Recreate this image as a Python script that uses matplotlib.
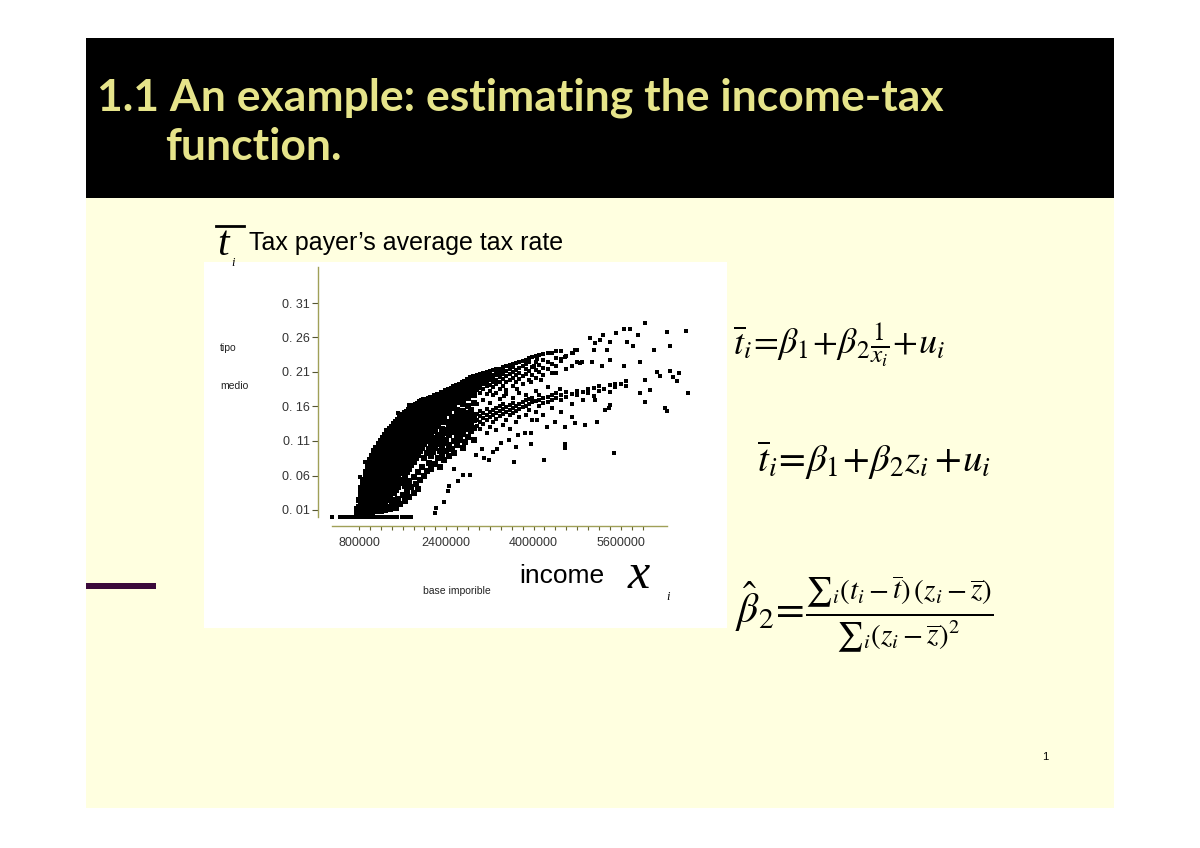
import matplotlib
matplotlib.use("Agg")
import matplotlib.pyplot as plt
from matplotlib.patches import Rectangle
from matplotlib.lines import Line2D
import numpy as np

plt.rcParams['mathtext.fontset'] = 'stix'

W, H = 1200, 848

# --- data (income in millions of pesetas, average tax rate) ---
# filers with zero tax, all on the bottom row
zero_income = [0.31, 0.45, 0.48, 0.51, 0.54, 0.57, 0.60, 0.63, 0.66, 0.69, 0.72, 0.75,
               0.78, 0.81, 0.84, 0.87, 0.90, 0.93, 0.96, 0.99, 1.02, 1.05, 1.08, 1.11,
               1.14, 1.17, 1.20, 1.23, 1.26, 1.29, 1.32, 1.35, 1.38, 1.41, 1.44, 1.47,
               1.50, 1.58, 1.63, 1.70, 1.75]

# dense arc below 2.0M: (income column, rates seen in that column)
arc_cols = [
    (0.77, [0.004, 0.012]),
    (0.80, [0.006, 0.015, 0.024]),
    (0.84, [0.009, 0.018, 0.027, 0.035, 0.042]),
    (0.88, [0.005, 0.014, 0.023, 0.031, 0.040, 0.048, 0.054]),
    (0.92, [0.010, 0.019, 0.028, 0.036, 0.045, 0.052, 0.059, 0.065]),
    (0.96, [0.006, 0.015, 0.024, 0.033, 0.041, 0.049, 0.056, 0.063, 0.069, 0.073]),
    (1.00, [0.011, 0.020, 0.029, 0.037, 0.046, 0.053, 0.060, 0.067, 0.073, 0.078, 0.082]),
    (1.04, [0.007, 0.016, 0.025, 0.034, 0.042, 0.050, 0.058, 0.065, 0.071, 0.077, 0.083, 0.088]),
    (1.08, [0.012, 0.021, 0.030, 0.039, 0.047, 0.055, 0.063, 0.070, 0.077, 0.083, 0.089, 0.095]),
    (1.12, [0.008, 0.017, 0.026, 0.035, 0.044, 0.052, 0.060, 0.068, 0.075, 0.082, 0.088, 0.094, 0.100]),
    (1.16, [0.013, 0.022, 0.031, 0.040, 0.049, 0.057, 0.065, 0.073, 0.080, 0.087, 0.093, 0.099, 0.105]),
    (1.20, [0.009, 0.018, 0.027, 0.036, 0.045, 0.054, 0.062, 0.070, 0.078, 0.085, 0.092, 0.098, 0.104, 0.110]),
    (1.24, [0.014, 0.023, 0.032, 0.041, 0.050, 0.059, 0.067, 0.075, 0.083, 0.090, 0.097, 0.103, 0.109, 0.115]),
    (1.28, [0.010, 0.019, 0.028, 0.046, 0.055, 0.064, 0.072, 0.080, 0.088, 0.095, 0.102, 0.108, 0.114, 0.119]),
    (1.32, [0.015, 0.024, 0.033, 0.042, 0.051, 0.060, 0.069, 0.077, 0.085, 0.093, 0.100, 0.107, 0.113, 0.119, 0.124]),
    (1.36, [0.011, 0.029, 0.038, 0.047, 0.056, 0.065, 0.074, 0.082, 0.090, 0.098, 0.105, 0.112, 0.118, 0.123, 0.128]),
    (1.40, [0.016, 0.025, 0.043, 0.052, 0.061, 0.070, 0.079, 0.087, 0.095, 0.103, 0.110, 0.116, 0.122, 0.127, 0.131]),
    (1.44, [0.021, 0.034, 0.048, 0.057, 0.066, 0.075, 0.084, 0.092, 0.100, 0.107, 0.114, 0.120, 0.125, 0.130, 0.134]),
    (1.48, [0.013, 0.039, 0.053, 0.062, 0.071, 0.080, 0.089, 0.097, 0.105, 0.112, 0.118, 0.124, 0.129, 0.133, 0.137]),
    (1.52, [0.026, 0.044, 0.058, 0.067, 0.076, 0.085, 0.094, 0.102, 0.110, 0.117, 0.123, 0.128, 0.133, 0.137, 0.141]),
    (1.56, [0.018, 0.049, 0.063, 0.072, 0.081, 0.090, 0.099, 0.107, 0.115, 0.121, 0.127, 0.132, 0.136, 0.140, 0.144]),
    (1.60, [0.032, 0.054, 0.068, 0.077, 0.086, 0.095, 0.104, 0.112, 0.119, 0.125, 0.131, 0.136, 0.140, 0.144, 0.147]),
    (1.64, [0.023, 0.045, 0.060, 0.073, 0.082, 0.091, 0.100, 0.109, 0.117, 0.124, 0.130, 0.135, 0.140, 0.144, 0.147, 0.150]),
    (1.68, [0.038, 0.065, 0.078, 0.087, 0.096, 0.105, 0.114, 0.121, 0.128, 0.134, 0.139, 0.143, 0.147, 0.150, 0.152]),
    (1.72, [0.029, 0.052, 0.070, 0.083, 0.092, 0.101, 0.110, 0.118, 0.125, 0.131, 0.137, 0.142, 0.146, 0.150, 0.153, 0.155]),
    (1.76, [0.043, 0.075, 0.088, 0.097, 0.106, 0.115, 0.122, 0.129, 0.135, 0.140, 0.145, 0.149, 0.152, 0.155, 0.157]),
    (1.80, [0.035, 0.058, 0.080, 0.093, 0.102, 0.111, 0.119, 0.126, 0.133, 0.139, 0.144, 0.148, 0.152, 0.155, 0.158, 0.160]),
    (1.84, [0.048, 0.085, 0.098, 0.107, 0.116, 0.123, 0.130, 0.136, 0.142, 0.147, 0.151, 0.155, 0.158, 0.160, 0.162]),
    (1.88, [0.041, 0.065, 0.090, 0.103, 0.112, 0.120, 0.127, 0.134, 0.140, 0.145, 0.150, 0.154, 0.157, 0.160, 0.162, 0.164]),
    (1.92, [0.054, 0.095, 0.108, 0.117, 0.125, 0.132, 0.138, 0.143, 0.148, 0.153, 0.157, 0.160, 0.163, 0.166]),
    (1.96, [0.072, 0.100, 0.113, 0.122, 0.129, 0.136, 0.142, 0.147, 0.152, 0.156, 0.160, 0.163, 0.166, 0.168]),
    (2.00, [0.060, 0.086, 0.105, 0.118, 0.126, 0.133, 0.139, 0.145, 0.150, 0.155, 0.159, 0.163, 0.166, 0.169]),
]

# 2.0M - 2.9M, where the two branches start to split
mid_cols = [
    (2.04, [0.066, 0.092, 0.110, 0.123, 0.131, 0.138, 0.144, 0.150, 0.155, 0.160, 0.164, 0.167, 0.170]),
    (2.08, [0.078, 0.098, 0.115, 0.127, 0.136, 0.143, 0.149, 0.154, 0.159, 0.163, 0.167, 0.171]),
    (2.12, [0.070, 0.088, 0.104, 0.120, 0.131, 0.140, 0.147, 0.153, 0.158, 0.162, 0.166, 0.169, 0.172]),
    (2.16, [0.094, 0.109, 0.124, 0.135, 0.144, 0.151, 0.157, 0.161, 0.165, 0.169, 0.173]),
    (2.20, [0.076, 0.100, 0.114, 0.128, 0.139, 0.148, 0.155, 0.160, 0.164, 0.168, 0.171, 0.175]),
    (2.24, [0.085, 0.105, 0.119, 0.132, 0.143, 0.152, 0.158, 0.163, 0.167, 0.171, 0.174, 0.176]),
    (2.28, [0.072, 0.096, 0.110, 0.137, 0.147, 0.155, 0.161, 0.166, 0.170, 0.174, 0.177]),
    (2.32, [0.090, 0.101, 0.115, 0.128, 0.141, 0.151, 0.159, 0.164, 0.169, 0.173, 0.176, 0.179]),
    (2.36, [0.082, 0.107, 0.121, 0.145, 0.155, 0.162, 0.167, 0.172, 0.176, 0.180]),
    (2.40, [0.095, 0.112, 0.126, 0.138, 0.150, 0.158, 0.165, 0.170, 0.175, 0.179, 0.182]),
    (2.45, [0.088, 0.104, 0.118, 0.131, 0.154, 0.162, 0.168, 0.173, 0.178, 0.181, 0.184]),
    (2.50, [0.099, 0.123, 0.136, 0.145, 0.158, 0.165, 0.171, 0.176, 0.180, 0.183, 0.186]),
    (2.55, [0.093, 0.110, 0.128, 0.141, 0.162, 0.168, 0.174, 0.179, 0.183, 0.186, 0.188]),
    (2.60, [0.104, 0.118, 0.133, 0.146, 0.155, 0.166, 0.172, 0.177, 0.182, 0.186, 0.189]),
    (2.65, [0.112, 0.125, 0.138, 0.150, 0.169, 0.175, 0.180, 0.185, 0.188, 0.191]),
    (2.70, [0.100, 0.120, 0.131, 0.143, 0.154, 0.164, 0.173, 0.179, 0.184, 0.188, 0.191, 0.194]),
    (2.75, [0.108, 0.127, 0.136, 0.147, 0.177, 0.182, 0.187, 0.191, 0.194, 0.196]),
    (2.80, [0.116, 0.132, 0.140, 0.151, 0.160, 0.172, 0.180, 0.185, 0.190, 0.193, 0.196, 0.198]),
    (2.85, [0.124, 0.137, 0.144, 0.155, 0.183, 0.188, 0.192, 0.196, 0.199, 0.201]),
    (2.90, [0.112, 0.129, 0.141, 0.148, 0.165, 0.176, 0.186, 0.191, 0.195, 0.198, 0.201, 0.203]),
]

# upper branch above 2.9M
upper_cols = [
    (2.96, [0.184, 0.190, 0.196, 0.201, 0.205]),
    (3.02, [0.180, 0.187, 0.193, 0.199, 0.204, 0.207]),
    (3.08, [0.186, 0.192, 0.197, 0.202, 0.206, 0.209]),
    (3.14, [0.178, 0.189, 0.195, 0.200, 0.205, 0.210]),
    (3.20, [0.183, 0.191, 0.198, 0.203, 0.208, 0.211]),
    (3.26, [0.188, 0.195, 0.201, 0.206, 0.213]),
    (3.32, [0.180, 0.192, 0.199, 0.205, 0.210, 0.214]),
    (3.38, [0.186, 0.196, 0.203, 0.209, 0.215]),
    (3.44, [0.190, 0.200, 0.207, 0.212, 0.217]),
    (3.50, [0.184, 0.195, 0.204, 0.211, 0.219]),
    (3.56, [0.198, 0.207, 0.214, 0.220]),
    (3.62, [0.189, 0.202, 0.210, 0.217, 0.222]),
    (3.68, [0.195, 0.206, 0.213, 0.223]),
    (3.74, [0.200, 0.209, 0.216, 0.224]),
    (3.80, [0.192, 0.204, 0.219, 0.226]),
    (3.86, [0.207, 0.214, 0.222, 0.228]),
    (3.92, [0.198, 0.211, 0.225, 0.230]),
    (3.98, [0.205, 0.217, 0.232]),
    (4.04, [0.201, 0.213, 0.224, 0.233]),
    (4.10, [0.210, 0.220, 0.235]),
    (4.18, [0.205, 0.216, 0.228, 0.236]),
    (4.26, [0.214, 0.225, 0.237]),
    (4.34, [0.209, 0.222, 0.238]),
    (4.42, [0.218, 0.230, 0.240]),
    (4.50, [0.226, 0.241]),
    (4.60, [0.215, 0.233]),
    (4.70, [0.219, 0.238]),
    (4.80, [0.224, 0.242]),
]

# lower branch above 2.9M
lower_cols = [
    (2.96, [0.132, 0.141, 0.149, 0.163]),
    (3.02, [0.127, 0.138, 0.146, 0.154]),
    (3.08, [0.135, 0.143, 0.150, 0.170]),
    (3.14, [0.122, 0.140, 0.148, 0.156]),
    (3.20, [0.131, 0.145, 0.152, 0.165]),
    (3.26, [0.137, 0.148, 0.155, 0.176]),
    (3.32, [0.126, 0.142, 0.151, 0.158]),
    (3.38, [0.146, 0.153, 0.160, 0.171]),
    (3.44, [0.133, 0.149, 0.156, 0.163]),
    (3.50, [0.141, 0.152, 0.159, 0.178]),
    (3.56, [0.128, 0.147, 0.155, 0.162]),
    (3.62, [0.150, 0.158, 0.165, 0.173]),
    (3.68, [0.138, 0.153, 0.161]),
    (3.74, [0.145, 0.156, 0.164, 0.180]),
    (3.80, [0.159, 0.167]),
    (3.86, [0.148, 0.161, 0.169, 0.176]),
    (3.92, [0.155, 0.164, 0.171]),
    (3.98, [0.140, 0.166, 0.173]),
    (4.04, [0.152, 0.168, 0.183]),
    (4.10, [0.160, 0.170, 0.176]),
    (4.18, [0.147, 0.165, 0.172]),
    (4.26, [0.167, 0.174, 0.188]),
    (4.34, [0.158, 0.170, 0.177]),
    (4.42, [0.172, 0.179]),
    (4.50, [0.152, 0.169, 0.176]),
    (4.60, [0.174, 0.181]),
    (4.70, [0.163, 0.178]),
    (4.80, [0.176, 0.183]),
    (4.90, [0.170, 0.181]),
    (5.00, [0.179, 0.186]),
    (5.10, [0.175, 0.187]),
    (5.20, [0.183, 0.190]),
    (5.30, [0.186]),
    (5.40, [0.181, 0.191]),
    (5.50, [0.188, 0.193]),
    (5.60, [0.192]),
    (5.70, [0.190, 0.197]),
]

# isolated points
stray_income = [0.81, 0.91, 1.52, 1.71, 2.19, 2.22, 2.36, 2.43, 2.45, 2.71, 2.83, 2.55, 2.62,
                2.95, 3.05, 3.10, 3.19, 3.25, 3.33, 3.40, 3.55, 3.64, 3.67, 3.72, 3.85, 3.95,
                3.95, 4.07, 4.20, 4.25, 4.40, 4.57, 4.57, 4.70, 4.76, 4.94, 5.16, 5.31, 5.40,
                5.47, 4.58, 5.13, 5.38,
                4.58, 4.76, 4.85, 5.03, 5.07, 5.10, 5.13, 5.22, 5.25, 5.28, 5.34, 5.40, 5.40,
                5.52, 5.65, 5.65, 5.71, 5.77, 5.83, 5.92, 5.95, 6.04, 5.95, 6.04, 6.04, 6.13,
                6.20, 6.26, 6.41, 6.44, 6.50, 6.56, 6.80, 6.83, 6.44, 6.63, 6.66, 6.32, 6.51,
                4.88, 4.73, 4.51, 4.42, 4.48, 4.14, 4.01, 4.26, 4.07, 3.95, 3.70, 3.45]
stray_rate = [0.058, 0.079, 0.150, 0.162, 0.006, 0.013, 0.022, 0.038, 0.045, 0.061, 0.061, 0.070, 0.052,
              0.090, 0.098, 0.085, 0.082, 0.094, 0.099, 0.107, 0.112, 0.079, 0.101, 0.118, 0.122, 0.106,
              0.121, 0.141, 0.082, 0.130, 0.138, 0.100, 0.131, 0.145, 0.136, 0.133, 0.138, 0.155, 0.162,
              0.093, 0.105, 0.170, 0.158,
              0.232, 0.242, 0.223, 0.259, 0.225, 0.242, 0.252, 0.256, 0.218, 0.264, 0.242, 0.254, 0.227,
              0.266, 0.273, 0.218, 0.254, 0.273, 0.247, 0.264, 0.225, 0.281, 0.180, 0.198, 0.167, 0.184,
              0.242, 0.210, 0.158, 0.268, 0.247, 0.203, 0.270, 0.179, 0.154, 0.197, 0.209, 0.204, 0.211,
              0.224, 0.238, 0.229, 0.209, 0.185, 0.199, 0.219, 0.214, 0.229, 0.195, 0.185, 0.175]

y_ticks = [0.01, 0.06, 0.11, 0.16, 0.21, 0.26, 0.31]
y_tick_labels = ["0. 01", "0. 06", "0. 11", "0. 16", "0. 21", "0. 26", "0. 31"]
x_ticks = [800000, 2400000, 4000000, 5600000]
x_tick_labels = ["800000", "2400000", "4000000", "5600000"]


def flatten(cols):
    xs, ys = [], []
    for col_x, col_rates in cols:
        xs += [col_x] * len(col_rates)
        ys += col_rates
    return np.array(xs) * 1e6, np.array(ys)


# dense arc drawn with larger squares, branches and lone points smaller
dense_income, dense_rate = flatten(arc_cols + mid_cols)
branch_income, branch_rate = flatten(upper_cols + lower_cols)
lone_income = np.array(zero_income + stray_income) * 1e6
lone_rate = np.array([0.0] * len(zero_income) + stray_rate)


def fx(x):
    return x / W


def fy(y):
    return 1 - y / H


fig = plt.figure(figsize=(12, 8.48), dpi=100)
fig.patch.set_facecolor('white')

# slide background, title band, picture panel, purple marker
fig.add_artist(Rectangle((fx(86), fy(808)), 1028 / W, 770 / H, transform=fig.transFigure,
                         facecolor='#ffffe0', edgecolor='none', zorder=0))
fig.add_artist(Rectangle((fx(86), fy(198)), 1028 / W, 160 / H, transform=fig.transFigure,
                         facecolor='black', edgecolor='none', zorder=0.5))
fig.add_artist(Rectangle((fx(204), fy(628)), 523 / W, 366 / H, transform=fig.transFigure,
                         facecolor='white', edgecolor='none', zorder=0.5))
fig.add_artist(Rectangle((fx(86), fy(589)), 70 / W, 6 / H, transform=fig.transFigure,
                         facecolor='#3b0a3b', edgecolor='none', zorder=0.5))

title_col = '#e6e48a'
fig.text(fx(97), fy(110), "1.1 An example: estimating the income-tax", color=title_col,
         fontsize=32, fontweight='bold', family='Lato', va='baseline', ha='left', zorder=3)
fig.text(fx(165), fy(160), "function.", color=title_col,
         fontsize=32, fontweight='bold', family='Lato', va='baseline', ha='left', zorder=3)

# scatter axes
ax = fig.add_axes([315.4 / W, fy(527.25), 381.8 / W, 262.2 / H])
ax.set_zorder(2)
ax.set_facecolor('none')
ax.set_xlim(0, 7.0e6)
ax.set_ylim(-0.015, 0.365)
ax.scatter(dense_income, dense_rate, s=14, marker='s', c='black', linewidths=0, zorder=3)
ax.scatter(branch_income, branch_rate, s=7.5, marker='s', c='black', linewidths=0, zorder=3)
ax.scatter(lone_income, lone_rate, s=7, marker='s', c='black', linewidths=0, zorder=3)

axis_col = '#a0a058'
for side in ['top', 'right']:
    ax.spines[side].set_visible(False)
ax.spines['left'].set_position(('data', 0.05e6))
ax.spines['left'].set_bounds(0.0, 0.362)
ax.spines['bottom'].set_position(('data', -0.0125))
ax.spines['bottom'].set_bounds(0.30e6, 6.45e6)
for side in ['left', 'bottom']:
    ax.spines[side].set_color(axis_col)
    ax.spines[side].set_linewidth(1.0)

ax.set_yticks(y_ticks)
ax.set_yticklabels(y_tick_labels, family='Liberation Sans', fontsize=9, color='#333333')
ax.set_xticks(x_ticks)
ax.set_xticklabels(x_tick_labels, family='Liberation Sans', fontsize=9, color='#333333')
ax.set_xticks(np.arange(8, 61, 2) * 1e5, minor=True)
ax.tick_params(axis='y', direction='out', length=4, width=0.8, color='#555533', pad=2)
ax.tick_params(axis='x', which='both', direction='out', length=3, width=0.8, color='#666633', pad=5)

fig.text(fx(220), fy(348), "tipo", fontsize=7.5, family='Liberation Sans', va='center', color='#222222')
fig.text(fx(220), fy(386), "medio", fontsize=7.5, family='Liberation Sans', va='center', color='#222222')
fig.text(fx(457), fy(591), "base imporible", fontsize=7.5, family='Liberation Sans', va='center',
         ha='center', color='#222222')

# annotations over the picture
fig.text(fx(217), fy(255), "t", fontsize=30, family='Liberation Serif', style='italic',
         va='baseline', zorder=4)
fig.add_artist(Line2D([fx(216), fx(244)], [fy(226), fy(226)], color='black', lw=2, zorder=4))
fig.text(fx(231), fy(266), "i", fontsize=9, family='Liberation Serif', style='italic',
         va='baseline', zorder=4)
fig.text(fx(249), fy(250), "Tax payer\u2019s average tax rate", fontsize=18,
         family='Liberation Sans', va='baseline', zorder=4)

fig.text(fx(519), fy(583), "income", fontsize=19, family='Liberation Sans', va='baseline', zorder=4)
fig.text(fx(628), fy(588), "x", fontsize=36, family='Liberation Serif', style='italic',
         va='baseline', zorder=4)
fig.text(fx(666), fy(600), "i", fontsize=9, family='Liberation Serif', style='italic',
         va='baseline', zorder=4)

# model equations
fig.text(fx(733), fy(345), r'$\overline{t}_{i}\!=\!\beta_{1}\!+\!\beta_{2}\frac{1}{x_i}\!+\!u_{i}$',
         fontsize=26, va='center', ha='left')
fig.text(fx(757), fy(460), r'$\overline{t}_{i}\!=\!\beta_{1}\!+\!\beta_{2}z_{i}+\!u_{i}$',
         fontsize=28, va='center', ha='left')
fig.text(fx(735), fy(614),
         r'$\hat{\beta}_{2}\!=\!\frac{{\sum}_{i}(t_{i}-\overline{t})\,(z_{i}-\overline{z})}{{\sum}_{i}(z_{i}-\overline{z})^{2}}$',
         fontsize=30, va='center', ha='left')

fig.text(fx(1045), fy(757), "1", fontsize=8, family='Liberation Sans', ha='center', va='center')

fig.savefig('out.png', dpi=100, facecolor='white')
